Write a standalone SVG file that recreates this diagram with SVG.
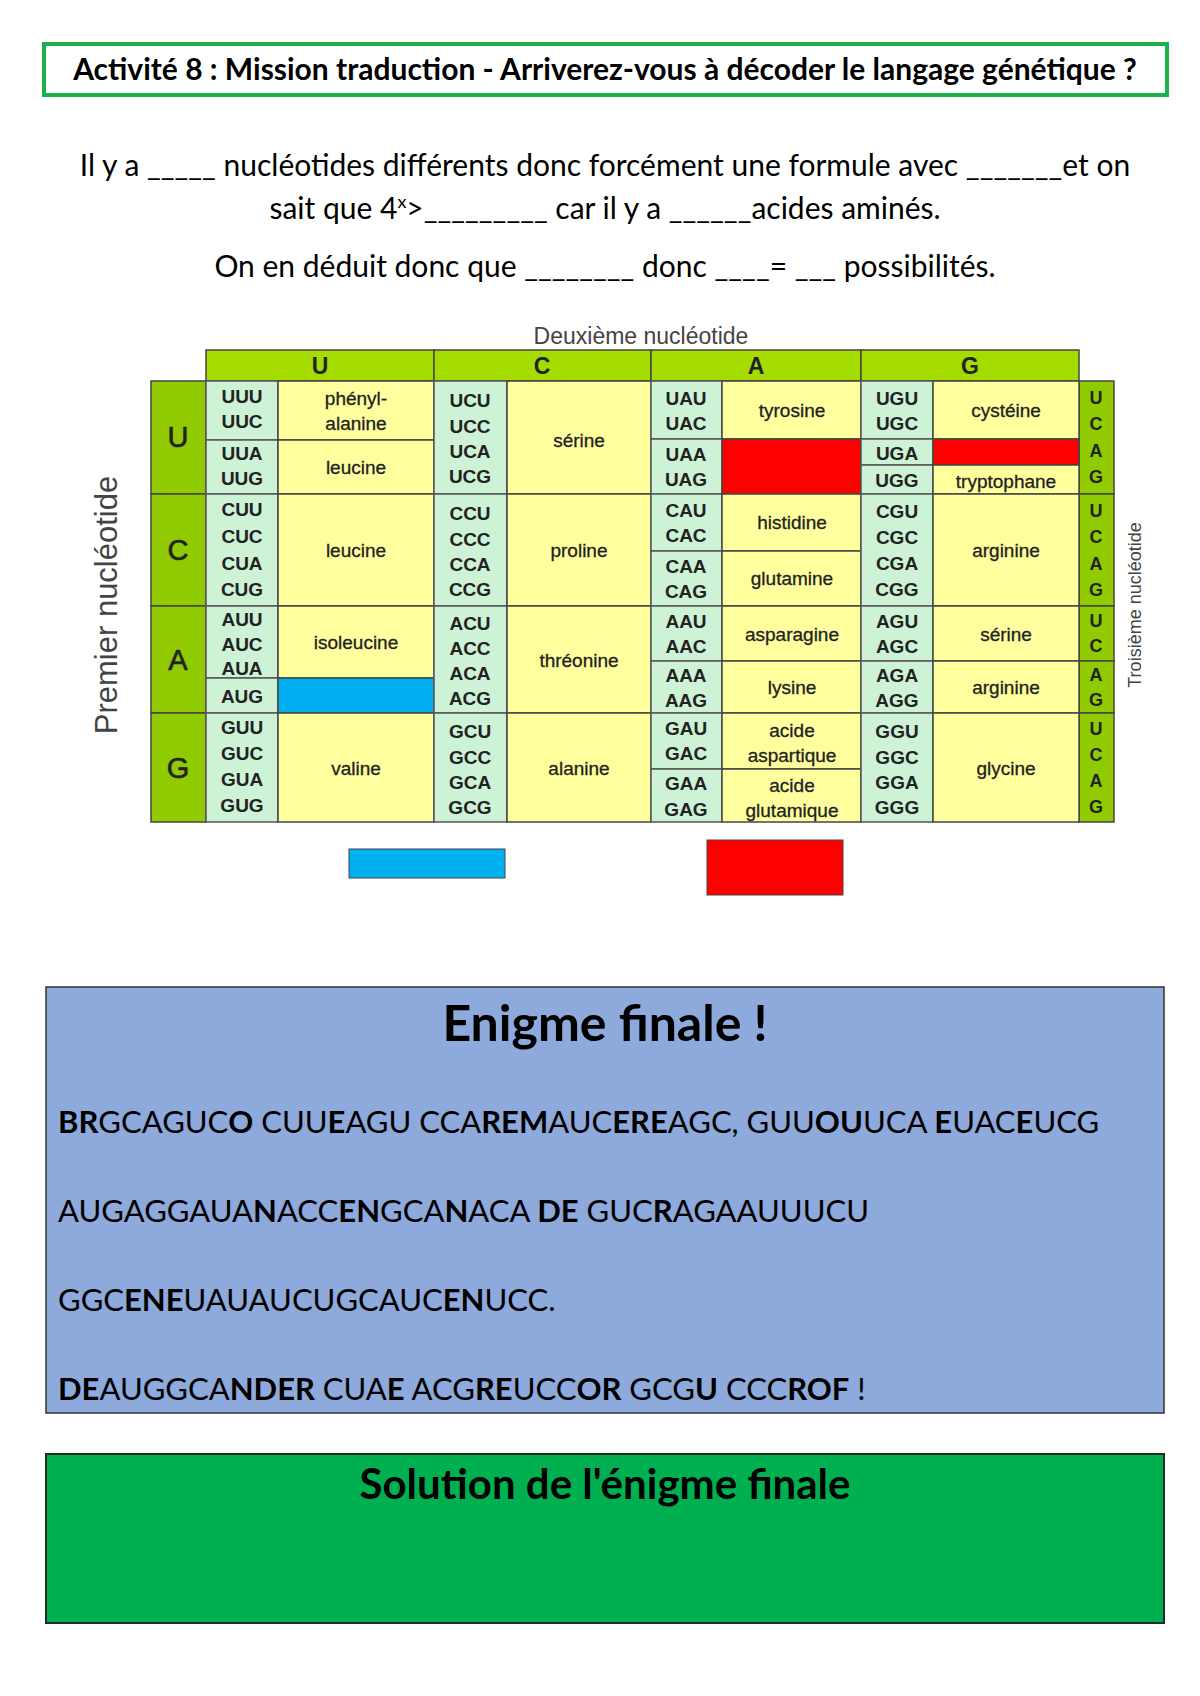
<svg xmlns="http://www.w3.org/2000/svg" width="1200" height="1696" viewBox="0 0 1200 1696">
<style>
.body{font-family:Lato,"Open Sans",sans-serif;font-size:30px;fill:#000}
.cd{font-family:"Liberation Sans",Arial,sans-serif;font-weight:bold;font-size:19px;fill:#222;text-anchor:middle;dominant-baseline:central}
.aa{font-family:"Liberation Sans",Arial,sans-serif;font-size:19px;fill:#222;stroke:#222;stroke-width:0.3;text-anchor:middle;dominant-baseline:central}
.hd{font-family:"Liberation Sans",Arial,sans-serif;font-weight:bold;font-size:23px;fill:#222;text-anchor:middle;dominant-baseline:central}
.big{font-family:"Liberation Sans",Arial,sans-serif;font-size:29px;fill:#222;stroke:#222;stroke-width:0.6;text-anchor:middle;dominant-baseline:central}
.rt{font-family:"Liberation Sans",Arial,sans-serif;font-weight:bold;font-size:18px;fill:#222;text-anchor:middle;dominant-baseline:central}
.g{fill:#A5DC00;stroke:#444;stroke-width:1.5}
.g2{fill:#8FCB00;stroke:#444;stroke-width:1.5}
.c{fill:#CDF2D6;stroke:#555;stroke-width:1.5}
.y{fill:#FFFF9E;stroke:#444;stroke-width:1.5}
.en{font-family:Lato,"Open Sans",sans-serif;font-size:31px;fill:#000}
.b{font-weight:bold}
</style>
<g id="title">
<rect x="44" y="44" width="1123" height="51" fill="#fff" stroke="#1DB14B" stroke-width="4"/>
<text x="605" y="80" text-anchor="middle" font-family="Lato,'Open Sans',sans-serif" font-weight="bold" font-size="30">Activité 8 : Mission traduction - Arriverez-vous à décoder le langage génétique ?</text>
</g>
<g id="questions" class="body" text-anchor="middle">
<text x="605" y="176">Il y a _____ nucléotides différents donc forcément une formule avec _______et on</text>
<text x="605" y="219">sait que 4<tspan font-size="18" dy="-11">x</tspan><tspan dy="11">&gt;_________ car il y a ______acides aminés.</tspan></text>
<text x="605" y="277">On en déduit donc que ________ donc ____= ___ possibilités.</text>
</g>
<g id="table">
<text x="641" y="336" text-anchor="middle" dominant-baseline="central" font-family="'Liberation Sans',Arial,sans-serif" font-size="23" fill="#444">Deuxième nucléotide</text>
<text transform="translate(106,605) rotate(-90)" text-anchor="middle" dominant-baseline="central" font-family="'Liberation Sans',Arial,sans-serif" font-size="31" fill="#444">Premier nucléotide</text>
<text transform="translate(1135,605) rotate(-90)" text-anchor="middle" dominant-baseline="central" font-family="'Liberation Sans',Arial,sans-serif" font-size="18" fill="#444">Troisième nucléotide</text>
<rect class="g" x="206" y="350" width="228" height="31"/><rect class="g" x="434" y="350" width="217" height="31"/><rect class="g" x="651" y="350" width="210" height="31"/><rect class="g" x="861" y="350" width="218" height="31"/>
<text class="hd" x="320" y="366">U</text><text class="hd" x="542" y="366">C</text><text class="hd" x="756" y="366">A</text><text class="hd" x="970" y="366">G</text>
<rect class="g2" x="151" y="381" width="55" height="113"/><rect class="g2" x="151" y="494" width="55" height="112"/><rect class="g2" x="151" y="606" width="55" height="107"/><rect class="g2" x="151" y="713" width="55" height="109"/>
<text class="big" x="178" y="437">U</text><text class="big" x="178" y="550">C</text><text class="big" x="178" y="660">A</text><text class="big" x="178" y="768">G</text>
<rect class="g2" x="1079" y="381" width="35" height="113"/><rect class="g2" x="1079" y="494" width="35" height="112"/><rect class="g2" x="1079" y="606" width="35" height="55"/><rect class="g2" x="1079" y="661" width="35" height="52"/><rect class="g2" x="1079" y="713" width="35" height="109"/>
<g class="rt">
<text x="1096" y="398">U</text><text x="1096" y="424">C</text><text x="1096" y="451">A</text><text x="1096" y="477">G</text>
<text x="1096" y="511">U</text><text x="1096" y="537">C</text><text x="1096" y="564">A</text><text x="1096" y="590">G</text>
<text x="1096" y="621">U</text><text x="1096" y="646">C</text><text x="1096" y="675">A</text><text x="1096" y="700">G</text>
<text x="1096" y="729">U</text><text x="1096" y="755">C</text><text x="1096" y="781">A</text><text x="1096" y="807">G</text>
</g>
<rect class="c" x="206" y="381" width="72" height="59"/><rect class="c" x="206" y="440" width="72" height="54"/><rect class="c" x="206" y="494" width="72" height="112"/><rect class="c" x="206" y="606" width="72" height="72"/><rect class="c" x="206" y="678" width="72" height="35"/><rect class="c" x="206" y="713" width="72" height="109"/>
<rect class="y" x="278" y="381" width="156" height="59"/><rect class="y" x="278" y="440" width="156" height="54"/><rect class="y" x="278" y="494" width="156" height="112"/><rect class="y" x="278" y="606" width="156" height="72"/><rect x="278" y="678" width="156" height="35" fill="#00B0F0" stroke="#444" stroke-width="1.5"/><rect class="y" x="278" y="713" width="156" height="109"/>
<rect class="c" x="434" y="381" width="73" height="113"/><rect class="c" x="434" y="494" width="73" height="112"/><rect class="c" x="434" y="606" width="73" height="107"/><rect class="c" x="434" y="713" width="73" height="109"/>
<rect class="y" x="507" y="381" width="144" height="113"/><rect class="y" x="507" y="494" width="144" height="112"/><rect class="y" x="507" y="606" width="144" height="107"/><rect class="y" x="507" y="713" width="144" height="109"/>
<rect class="c" x="651" y="381" width="71" height="58"/><rect class="c" x="651" y="439" width="71" height="55"/><rect class="c" x="651" y="494" width="71" height="57"/><rect class="c" x="651" y="551" width="71" height="55"/><rect class="c" x="651" y="606" width="71" height="55"/><rect class="c" x="651" y="661" width="71" height="52"/><rect class="c" x="651" y="713" width="71" height="56"/><rect class="c" x="651" y="769" width="71" height="53"/>
<rect class="y" x="722" y="381" width="139" height="58"/><rect x="722" y="439" width="139" height="55" fill="#FF0000" stroke="#444" stroke-width="1.5"/><rect class="y" x="722" y="494" width="139" height="57"/><rect class="y" x="722" y="551" width="139" height="55"/><rect class="y" x="722" y="606" width="139" height="55"/><rect class="y" x="722" y="661" width="139" height="52"/><rect class="y" x="722" y="713" width="139" height="56"/><rect class="y" x="722" y="769" width="139" height="53"/>
<rect class="c" x="861" y="381" width="72" height="58"/><rect class="c" x="861" y="439" width="72" height="26"/><rect class="c" x="861" y="465" width="72" height="29"/><rect class="c" x="861" y="494" width="72" height="112"/><rect class="c" x="861" y="606" width="72" height="55"/><rect class="c" x="861" y="661" width="72" height="52"/><rect class="c" x="861" y="713" width="72" height="109"/>
<rect class="y" x="933" y="381" width="146" height="58"/><rect x="933" y="439" width="146" height="26" fill="#FF0000" stroke="#444" stroke-width="1.5"/><rect class="y" x="933" y="465" width="146" height="29"/><rect class="y" x="933" y="494" width="146" height="112"/><rect class="y" x="933" y="606" width="146" height="55"/><rect class="y" x="933" y="661" width="146" height="52"/><rect class="y" x="933" y="713" width="146" height="109"/>
<g class="cd">
<text x="242" y="396">UUU</text><text x="242" y="421">UUC</text><text x="242" y="453">UUA</text><text x="242" y="478">UUG</text>
<text x="242" y="509">CUU</text><text x="242" y="536">CUC</text><text x="242" y="563">CUA</text><text x="242" y="589">CUG</text>
<text x="242" y="619">AUU</text><text x="242" y="644">AUC</text><text x="242" y="668">AUA</text><text x="242" y="696">AUG</text>
<text x="242" y="727">GUU</text><text x="242" y="753">GUC</text><text x="242" y="779">GUA</text><text x="242" y="805">GUG</text>
<text x="470" y="400">UCU</text><text x="470" y="426">UCC</text><text x="470" y="451">UCA</text><text x="470" y="476">UCG</text>
<text x="470" y="513">CCU</text><text x="470" y="539">CCC</text><text x="470" y="564">CCA</text><text x="470" y="589">CCG</text>
<text x="470" y="623">ACU</text><text x="470" y="648">ACC</text><text x="470" y="673">ACA</text><text x="470" y="698">ACG</text>
<text x="470" y="731">GCU</text><text x="470" y="757">GCC</text><text x="470" y="782">GCA</text><text x="470" y="807">GCG</text>
<text x="686" y="398">UAU</text><text x="686" y="423">UAC</text><text x="686" y="454">UAA</text><text x="686" y="479">UAG</text>
<text x="686" y="510">CAU</text><text x="686" y="535">CAC</text><text x="686" y="566">CAA</text><text x="686" y="591">CAG</text>
<text x="686" y="621">AAU</text><text x="686" y="646">AAC</text><text x="686" y="675">AAA</text><text x="686" y="700">AAG</text>
<text x="686" y="728">GAU</text><text x="686" y="753">GAC</text><text x="686" y="783">GAA</text><text x="686" y="809">GAG</text>
<text x="897" y="398">UGU</text><text x="897" y="423">UGC</text><text x="897" y="453">UGA</text><text x="897" y="480">UGG</text>
<text x="897" y="511">CGU</text><text x="897" y="537">CGC</text><text x="897" y="563">CGA</text><text x="897" y="589">CGG</text>
<text x="897" y="621">AGU</text><text x="897" y="646">AGC</text><text x="897" y="675">AGA</text><text x="897" y="700">AGG</text>
<text x="897" y="731">GGU</text><text x="897" y="757">GGC</text><text x="897" y="782">GGA</text><text x="897" y="807">GGG</text>
</g>
<g class="aa">
<text x="356" y="398">phényl-</text><text x="356" y="423">alanine</text><text x="356" y="467">leucine</text><text x="356" y="550">leucine</text><text x="356" y="642">isoleucine</text><text x="356" y="768">valine</text>
<text x="579" y="440">sérine</text><text x="579" y="550">proline</text><text x="579" y="660">thréonine</text><text x="579" y="768">alanine</text>
<text x="792" y="410">tyrosine</text><text x="792" y="522">histidine</text><text x="792" y="578">glutamine</text><text x="792" y="634">asparagine</text><text x="792" y="687">lysine</text><text x="792" y="730">acide</text><text x="792" y="755">aspartique</text><text x="792" y="785">acide</text><text x="792" y="810">glutamique</text>
<text x="1006" y="410">cystéine</text><text x="1006" y="481">tryptophane</text><text x="1006" y="550">arginine</text><text x="1006" y="634">sérine</text><text x="1006" y="687">arginine</text><text x="1006" y="768">glycine</text>
</g>
</g>
<g id="legend">
<rect x="349" y="849" width="156" height="29" fill="#00B0F0" stroke="#444" stroke-width="1"/>
<rect x="707" y="840" width="136" height="55" fill="#FF0000" stroke="#444" stroke-width="1"/>
</g>
<g id="enigme">
<rect x="46" y="987" width="1118" height="426" fill="#8EA9DB" stroke="#333" stroke-width="1.5"/>
<text x="605" y="1041" text-anchor="middle" font-family="Lato,'Open Sans',sans-serif" font-weight="bold" font-size="50">Enigme finale !</text>
<text class="en" x="58" y="1133"><tspan class="b">BR</tspan>GCAGUC<tspan class="b">O</tspan> CUU<tspan class="b">E</tspan>AGU CCA<tspan class="b">REM</tspan>AUC<tspan class="b">ERE</tspan>AGC, GUU<tspan class="b">OU</tspan>UCA <tspan class="b">E</tspan>UAC<tspan class="b">E</tspan>UCG</text>
<text class="en" x="58" y="1222">AUGAGGAUA<tspan class="b">N</tspan>ACC<tspan class="b">EN</tspan>GCA<tspan class="b">N</tspan>ACA <tspan class="b">DE</tspan> GUC<tspan class="b">R</tspan>AGAAUUUCU</text>
<text class="en" x="58" y="1311">GGC<tspan class="b">ENE</tspan>UAUAUCUGCAUC<tspan class="b">EN</tspan>UCC.</text>
<text class="en" x="58" y="1400"><tspan class="b">DE</tspan>AUGGCA<tspan class="b">NDER</tspan> CUA<tspan class="b">E</tspan> ACG<tspan class="b">RE</tspan>UCC<tspan class="b">OR</tspan> GCG<tspan class="b">U</tspan> CCC<tspan class="b">ROF</tspan> !</text>
</g>
<g id="solution">
<rect x="46" y="1454" width="1118" height="169" fill="#00B050" stroke="#1F2F1F" stroke-width="2"/>
<text x="605" y="1499" text-anchor="middle" font-family="Lato,'Open Sans',sans-serif" font-weight="bold" font-size="42">Solution de l'énigme finale</text>
</g>
</svg>
